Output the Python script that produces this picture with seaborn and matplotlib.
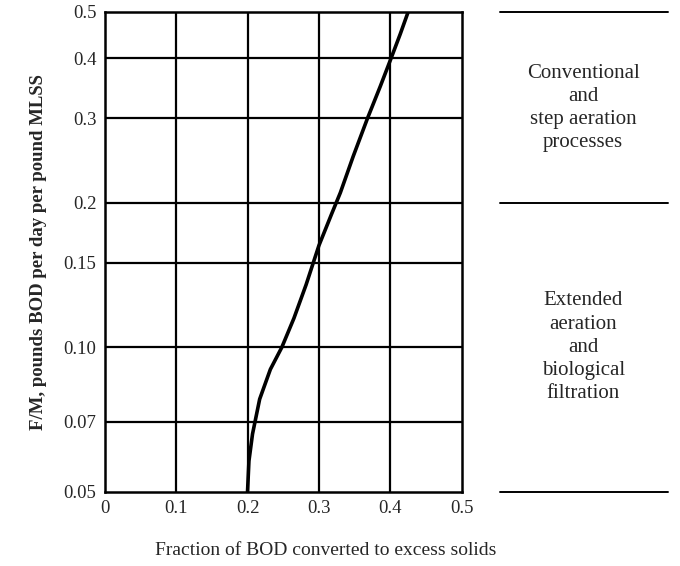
import matplotlib
matplotlib.use("Agg")
import matplotlib.pyplot as plt
import matplotlib.transforms as mtransforms
import seaborn as sns
import pandas as pd

# curve
frac = [0.200, 0.202, 0.207, 0.217, 0.232, 0.248, 0.265, 0.282, 0.300, 0.318, 0.330, 0.348, 0.368, 0.386, 0.401, 0.414, 0.425]
fm   = [0.050, 0.058, 0.066, 0.078, 0.090, 0.100, 0.115, 0.135, 0.163, 0.190, 0.210, 0.250, 0.300, 0.350, 0.400, 0.450, 0.500]
xticks = [0, 0.1, 0.2, 0.3, 0.4, 0.5]
xlabels = ["0", "0.1", "0.2", "0.3", "0.4", "0.5"]
yticks = [0.05, 0.07, 0.10, 0.15, 0.2, 0.3, 0.4, 0.5]
ylabels = ["0.05", "0.07", "0.10", "0.15", "0.2", "0.3", "0.4", "0.5"]
zone_lines = [0.5, 0.2, 0.05]
zone_text = ["Conventional\nand\nstep aeration\nprocesses",
             "Extended\naeration\nand\nbiological\nfiltration"]
zone_y = [0.315, 0.10]

sns.set_style("white")
plt.rcParams["font.family"] = ["Liberation Serif", "DejaVu Serif"]

fig = plt.figure(figsize=(6.8, 5.66), dpi=100)
ax = fig.add_axes([0.154, 0.131, 0.525, 0.848])

df = pd.DataFrame({"frac": frac, "fm": fm})
sns.lineplot(data=df, x="frac", y="fm", color="black", lw=2.6, ax=ax, sort=False)

ax.set_yscale("log")
ax.set_xlim(0, 0.5)
ax.set_ylim(0.05, 0.5)
ax.set_xticks(xticks)
ax.set_xticklabels(xlabels)
ax.set_yticks(yticks)
ax.set_yticklabels(ylabels)
ax.minorticks_off()
ax.tick_params(labelsize=13.5, length=0, pad=6)
for v in xticks[1:-1]:
    ax.axvline(v, color="black", lw=1.6)
for v in yticks[1:-1]:
    ax.axhline(v, color="black", lw=1.6)
for s in ax.spines.values():
    s.set_linewidth(1.8)
    s.set_color("black")

ax.set_xlabel("Fraction of BOD converted to excess solids", fontsize=14, labelpad=18, x=0.62)
ax.set_ylabel("F/M, pounds BOD per day per pound MLSS", fontsize=13.5, fontweight="bold", labelpad=12)

trans = mtransforms.blended_transform_factory(ax.transAxes, ax.transData)
for v in zone_lines:
    ax.plot([1.106, 1.577], [v, v], color="black", lw=1.4, transform=trans, clip_on=False)
for t, y in zip(zone_text, zone_y):
    ax.text(1.34, y, t, transform=trans, ha="center", va="center", fontsize=15, linespacing=1.3)

fig.savefig("out.png", dpi=100)
